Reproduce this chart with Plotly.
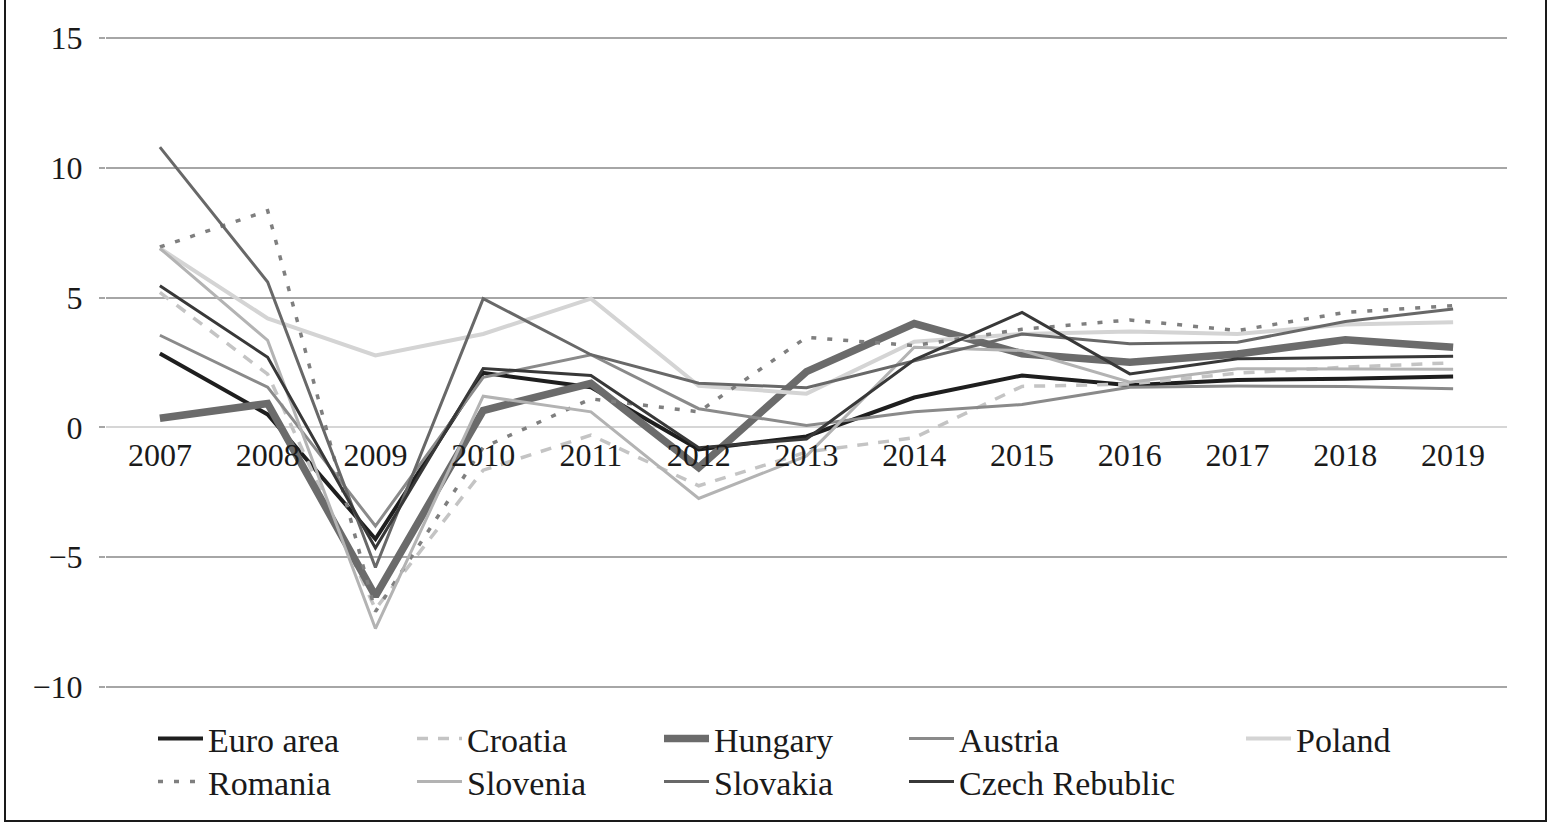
import plotly.graph_objects as go

years = ["2007", "2008", "2009", "2010", "2011", "2012", "2013",
         "2014", "2015", "2016", "2017", "2018", "2019"]

euro_area = [2.85, 0.5, -4.3, 2.1, 1.55, -0.85, -0.35, 1.15, 2.0, 1.62, 1.83, 1.87, 1.96]
croatia   = [5.2, 2.05, -7.0, -1.65, -0.3, -2.25, -0.95, -0.4, 1.58, 1.67, 2.09, 2.32, 2.49]
hungary   = [0.35, 0.92, -6.5, 0.65, 1.7, -1.55, 2.15, 4.0, 2.84, 2.51, 2.83, 3.38, 3.09]
austria   = [3.55, 1.55, -3.8, 1.93, 2.8, 0.72, 0.07, 0.6, 0.88, 1.55, 1.59, 1.58, 1.49]
poland    = [6.9, 4.2, 2.77, 3.6, 4.96, 1.6, 1.3, 3.3, 3.6, 3.69, 3.6, 3.96, 4.05]
romania   = [6.95, 8.35, -7.1, -0.77, 1.1, 0.6, 3.47, 3.15, 3.78, 4.14, 3.73, 4.43, 4.69]
slovenia  = [6.9, 3.35, -7.75, 1.2, 0.6, -2.74, -1.1, 3.09, 2.96, 1.74, 2.26, 2.26, 2.24]
slovakia  = [10.8, 5.6, -5.4, 4.96, 2.8, 1.7, 1.53, 2.55, 3.6, 3.22, 3.28, 4.08, 4.56]
czech     = [5.46, 2.7, -4.65, 2.27, 2.0, -0.78, -0.45, 2.6, 4.43, 2.06, 2.64, 2.68, 2.74]

yticks = [-10, -5, 0, 5, 10, 15]

FONT = "Liberation Serif, Times New Roman, DejaVu Serif, serif"
TXT = "#1a1a1a"

# name, values, colour, width, dash, legend column, legend row
series = [
    ("Euro area", euro_area, "#1e1e1e", 4, "solid", 0, 0),
    ("Croatia", croatia, "#c4c4c4", 3.5, "11px,10px", 1, 0),
    ("Hungary", hungary, "#6b6b6b", 7.5, "solid", 2, 0),
    ("Austria", austria, "#8a8a8a", 3, "solid", 3, 0),
    ("Poland", poland, "#d4d4d4", 4, "solid", 4, 0),
    ("Romania", romania, "#7f7f7f", 3.5, "5px,11px", 0, 1),
    ("Slovenia", slovenia, "#b3b3b3", 3, "solid", 1, 1),
    ("Slovakia", slovakia, "#686868", 3, "solid", 2, 1),
    ("Czech Rebublic", czech, "#383838", 3, "solid", 3, 1),
]

L, R, T, B = 106, 45, 36, 135
W, H = 1552, 824
pw, ph = W - L - R, H - T - B

def px2x(px):
    return (px - L) / pw

def py2y(py):
    return (H - B - py) / ph

col_text_px = [210, 469, 716, 961, 1298]
row_top_px = [710, 753]

fig = go.Figure()
legs = {}
for i, (name, vals, col, w, dash, c, r) in enumerate(series):
    key = "legend" if i == 0 else f"legend{i+1}"
    fig.add_trace(go.Scatter(
        x=years, y=vals, name=name, mode="lines",
        line=dict(color=col, width=w, dash=dash),
        legend=key,
    ))
    legs[key] = dict(font=dict(family=FONT, size=34, color=TXT),
                     bgcolor="rgba(0,0,0,0)", orientation="v",
                     xanchor="left", yanchor="top", tracegroupgap=0,
                     itemwidth=45,
                     x=px2x(col_text_px[c] - 57), y=py2y(row_top_px[r]))

fig.update_layout(
    width=W, height=H,
    margin=dict(l=L, r=R, t=T, b=B, autoexpand=False),
    paper_bgcolor="white", plot_bgcolor="white",
    font=dict(family=FONT, color=TXT),
    showlegend=True,
    xaxis=dict(
        type="category", anchor="free", position=10.08 / 25.16,
        range=[-0.5, 12.5],
        showgrid=False, showline=False, zeroline=False, ticks="",
        tickfont=dict(family=FONT, size=32, color=TXT),
        ticklabelstandoff=6,
    ),
    yaxis=dict(
        range=[-10.08, 15.08], tickvals=yticks,
        showgrid=True, gridcolor="#a6a6a6", gridwidth=2,
        zeroline=True, zerolinecolor="#d6d6d6", zerolinewidth=2,
        ticks="outside", ticklen=6, tickcolor="#a6a6a6", tickwidth=2,
        tickfont=dict(family=FONT, size=32, color=TXT),
        ticklabelstandoff=10,
        showline=False,
    ),
    shapes=[
        dict(type="path", xref="paper", yref="paper",
             path=f"M{px2x(5)},{py2y(-5)} L{px2x(5)},{py2y(821)} L{px2x(1546)},{py2y(821)} L{px2x(1546)},{py2y(-5)}",
             line=dict(color="#1a1a1a", width=2)),
    ],
    **legs,
)

fig.write_html("out.html")
